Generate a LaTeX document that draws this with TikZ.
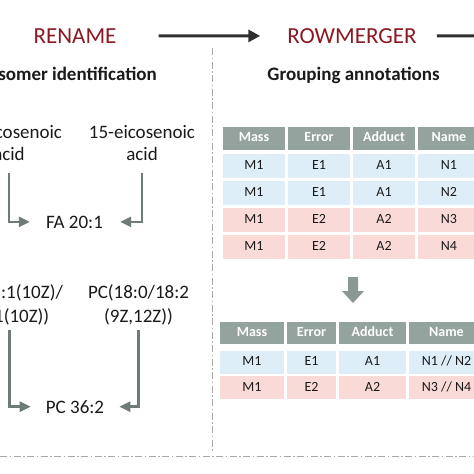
\documentclass[tikz,border=0pt]{standalone}
\usepackage{fontspec}
\setmainfont{Carlito}
\usetikzlibrary{arrows.meta}
\definecolor{titlered}{HTML}{8B1A24}
\definecolor{hdr}{HTML}{95A39F}
\definecolor{blu}{HTML}{DDEEF9}
\definecolor{pnk}{HTML}{FADAD7}
\definecolor{garr}{HTML}{6F7B79}
\definecolor{blockc}{HTML}{8A9794}
\definecolor{darr}{HTML}{303030}
\definecolor{sepc}{HTML}{A8A8A8}
\definecolor{txt}{HTML}{1A1A1A}
\begin{document}
\begin{tikzpicture}[x=1pt,y=-1pt,
 title/.style={font=\fontsize{23}{26}\selectfont, text=titlered, inner sep=0pt, anchor=base},
 subtitle/.style={font=\fontsize{19}{22}\selectfont\bfseries, text=txt, inner sep=0pt, anchor=base},
 lbl/.style={font=\fontsize{19}{22}\selectfont, text=txt, inner sep=0pt, anchor=base},
 cellbase/.style={inner sep=0pt, text height=10pt, text depth=3pt, font=\fontsize{14}{16}\selectfont},
 hcell/.style={cellbase, fill=hdr, text=white, font=\fontsize{14}{16}\selectfont\bfseries},
 bcell/.style={cellbase, fill=blu, text=txt},
 pcell/.style={cellbase, fill=pnk, text=txt},
 flow/.style={draw=darr, line width=3pt, -{Triangle[length=12pt,width=12pt]}},
 garrow/.style={draw=garr, line width=2.5pt, -{Triangle[length=11pt,width=10pt]}},
 divider/.style={draw=sepc, line width=1pt, dash pattern=on 7pt off 2.5pt on 1.5pt off 2.5pt}]
\useasboundingbox (0,0) rectangle (474,474);
\fill[white] (0,0) rectangle (474,474);
\clip (0,0) rectangle (474,474);

% titles
\node[title] (rename) at (75,43.3) {RENAME};
\node[title] (rowmerger) at (352,43.3) {ROWMERGER};
\coordinate (offright) at (530,36);
\draw[flow, shorten <=42pt, shorten >=27pt] (rename) -- (rowmerger);
\draw[flow, shorten <=20pt] (rowmerger) -- (offright);

\node[subtitle, anchor=base east] (isomer) at (157,80) {Isomer identification};
\node[subtitle] (grouping) at (353.5,80) {Grouping annotations};

% dividers
\coordinate (vtop) at (212,48);
\coordinate (vbot) at (212,453);
\coordinate (hleft) at (0,456.5);
\coordinate (hright) at (474,456.5);
\draw[divider] (vtop) -- (vbot);
\draw[divider] (hleft) -- (hright);

% left column
\node[lbl] (eicA1) at (9,138) {11-eicosenoic};
\node[lbl] (eicA2) at (9,160) {acid};
\node[lbl] (eicB1) at (142,138) {15-eicosenoic};
\node[lbl] (eicB2) at (142,160) {acid};
\node[lbl] (fa) at (74.5,228) {FA 20:1};
\draw[garrow, shorten <=13pt, shorten >=16pt] (eicA2.south) |- (fa.west);
\draw[garrow, shorten <=13pt, shorten >=17pt] (eicB2.south) |- (fa.east);

\node[lbl] (pcA1) at (9.5,298) {PC(18:1(10Z)/};
\node[lbl] (pcA2) at (9.5,322) {18:1(10Z))};
\node[lbl] (pcB1) at (138.5,298) {PC(18:0/18:2};
\node[lbl] (pcB2) at (138.5,322) {(9Z,12Z))};
\node[lbl] (pc) at (75,413) {PC 36:2};
\draw[garrow, shorten <=5pt, shorten >=15pt] (pcA2.south) |- (pc.west);
\draw[garrow, shorten <=5pt, shorten >=15pt] (pcB2.south) |- (pc.east);

% table 1
\foreach \x/\w/\h [count=\i] in {254/62/Mass, 319/62/Error, 384/62/Adduct, 449/62/Name}
  \node[hcell, minimum width=\w pt, minimum height=23pt] (ta-h\i) at (\x,138) {\h};
\foreach \y/\st/\m/\e/\a/\n [count=\r] in {166/bcell/M1/E1/A1/N1, 193/bcell/M1/E1/A1/N2, 220/pcell/M1/E2/A2/N3, 247/pcell/M1/E2/A2/N4}{
  \node[\st, minimum width=62pt, minimum height=24pt] (ta-r\r c1) at (254,\y) {\m};
  \node[\st, minimum width=62pt, minimum height=24pt] (ta-r\r c2) at (319,\y) {\e};
  \node[\st, minimum width=62pt, minimum height=24pt] (ta-r\r c3) at (384,\y) {\a};
  \node[\st, minimum width=62pt, minimum height=24pt] (ta-r\r c4) at (449,\y) {\n};
}

% block arrow
\fill[blockc] (348,277) -- (358,277) -- (358,291) -- (364,291) -- (353,303) -- (342,291) -- (348,291) -- cycle;

% table 2
\foreach \x/\w/\h [count=\i] in {252/64/Mass, 311.5/49/Error, 372.5/67/Adduct, 446.5/75/Name}
  \node[hcell, minimum width=\w pt, minimum height=22pt] (tb-h\i) at (\x,333) {\h};
\node[bcell, minimum width=64pt, minimum height=23pt] (tb-r1c1) at (252,362) {M1};
\node[bcell, minimum width=49pt, minimum height=23pt] (tb-r1c2) at (311.5,362) {E1};
\node[bcell, minimum width=67pt, minimum height=23pt] (tb-r1c3) at (372.5,362) {A1};
\node[bcell, minimum width=75pt, minimum height=23pt] (tb-r1c4) at (446.5,362) {N1 // N2};
\node[pcell, minimum width=64pt, minimum height=23pt] (tb-r2c1) at (252,387.5) {M1};
\node[pcell, minimum width=49pt, minimum height=23pt] (tb-r2c2) at (311.5,387.5) {E2};
\node[pcell, minimum width=67pt, minimum height=23pt] (tb-r2c3) at (372.5,387.5) {A2};
\node[pcell, minimum width=75pt, minimum height=23pt] (tb-r2c4) at (446.5,387.5) {N3 // N4};
\end{tikzpicture}
\end{document}
